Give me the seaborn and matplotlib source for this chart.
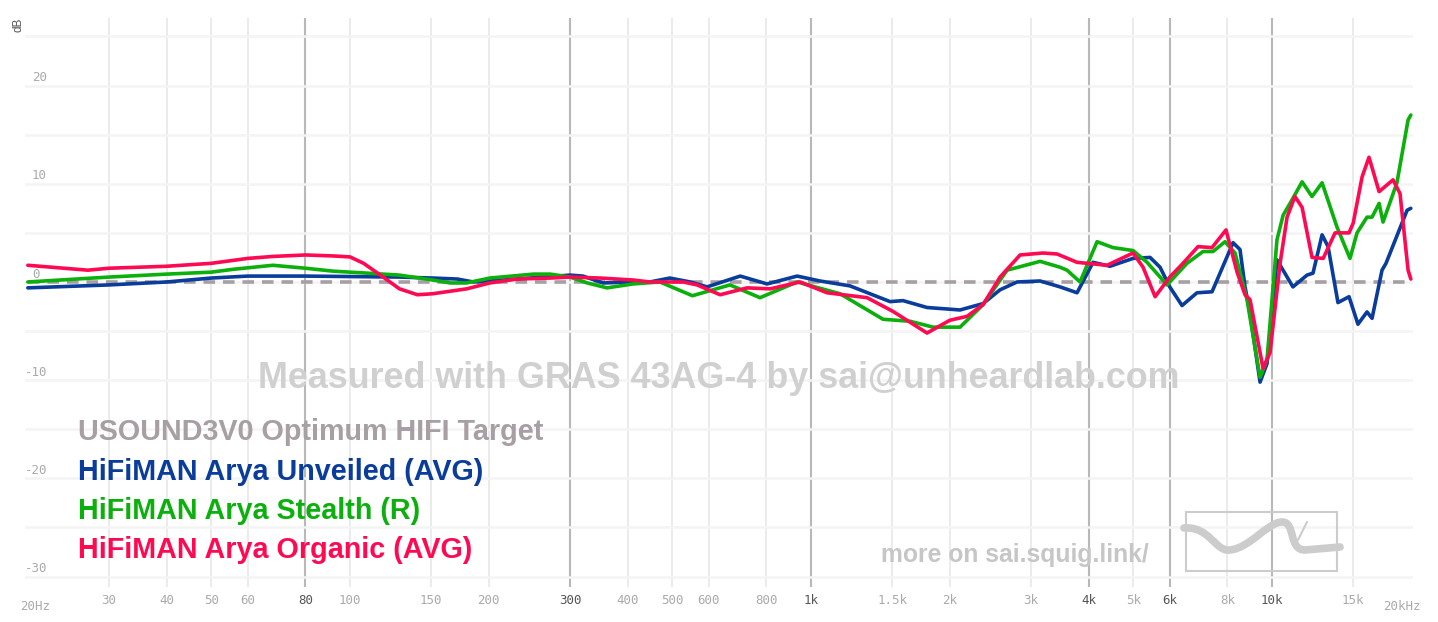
import pandas as pd
import matplotlib
matplotlib.use("Agg")
import matplotlib.pyplot as plt
import matplotlib.transforms as mtransforms
from matplotlib.patches import Rectangle, PathPatch
from matplotlib.path import Path
import seaborn as sns

# frequency response readings (Hz / dB)
target_hz = [20, 20000]
target_db = [0, 0]

unveiled_hz = [20, 30, 40, 50, 60, 80, 128, 151, 171, 185, 201, 300, 320, 354, 411, 447,
               494, 547, 595, 702, 803, 933, 1046, 1215, 1484, 1583, 1785, 2105, 2362, 2570,
               2798, 3139, 3469, 3776, 4090, 4452, 4994, 5438, 5716, 6000, 6379, 6874, 7410,
               8232, 8522, 8738, 8960, 9419, 9754, 10250, 11100, 11910, 12270, 12840, 13230,
               13900, 14690, 15360, 16070, 16480, 17320, 17670, 19630, 20000]
unveiled_db = [-0.6, -0.3, 0.0, 0.4, 0.6, 0.6, 0.5, 0.4, 0.3, 0.0, 0.1, 0.7, 0.6, -0.1, 0.0, 0.0,
               0.4, 0.0, -0.5, 0.6, -0.2, 0.6, 0.1, -0.4, -2.0, -1.9, -2.6, -2.85, -2.2, -0.8,
               0.0, 0.1, -0.5, -1.1, 2.0, 1.6, 2.4, 2.5, 1.5, -0.5, -2.4, -1.1, -1.0,
               4.0, 3.3, -0.5, -3.2, -10.2, -8.3, 2.25, -0.5, 0.7, 0.9, 4.8, 3.6,
               -2.1, -1.5, -4.3, -3.05, -3.7, 1.2, 1.9, 7.3, 7.5]

stealth_hz = [20, 30, 40, 50, 56, 68, 80, 92, 100, 109, 128, 151, 165, 179, 201, 250, 272, 300,
              327, 361, 411, 470, 553, 667, 775, 933, 1156, 1433, 1640, 1839, 2105, 2362, 2662,
              3139, 3469, 3592, 3833, 4173, 4519, 4994, 5357, 5919, 6540, 7083, 7447, 7907,
              8314, 8825, 9419, 9754, 10250, 10570, 10940, 11620, 12210, 12840, 13830, 14760,
              15290, 16070, 16480, 17070, 17410, 18660, 19730, 20000]
stealth_db = [0.0, 0.5, 0.8, 1.0, 1.3, 1.7, 1.4, 1.1, 1.0, 0.9, 0.7, 0.2, -0.1, -0.1, 0.4, 0.8, 0.8, 0.5,
              -0.1, -0.6, -0.2, 0.0, -1.4, -0.3, -1.6, 0.0, -1.2, -3.8, -4.0, -4.6, -4.6, -2.3, 1.2,
              2.1, 1.5, 1.2, 0.0, 4.1, 3.5, 3.2, 2.0, -0.3, 1.9, 3.1, 3.1, 4.1,
              2.95, -1.8, -9.7, -7.9, 4.3, 6.8, 8.0, 10.2, 8.7, 10.1, 5.6, 2.4,
              5.0, 6.6, 6.6, 8.0, 6.1, 10.1, 16.5, 17.0]

organic_hz = [20, 27, 30, 40, 50, 60, 68, 80, 92, 100, 107, 118, 128, 140, 151, 179, 201, 230,
              272, 300, 349, 411, 447, 528, 566, 635, 727, 815, 947, 1083, 1323, 1506, 1785,
              2000, 2180, 2362, 2570, 2841, 3186, 3417, 3776, 4386, 4994, 5251, 5576, 6000,
              6411, 6909, 7410, 7946, 8397, 8738, 8960, 9561, 9901, 10410, 10780, 11210, 11620,
              12210, 12910, 13700, 14690, 15000, 15680, 16230, 17070, 18300, 18950, 19730, 20000]
organic_db = [1.7, 1.2, 1.4, 1.6, 1.9, 2.4, 2.6, 2.75, 2.65, 2.55, 1.9, 0.5, -0.7, -1.3, -1.2, -0.7, -0.1, 0.3,
              0.4, 0.5, 0.4, 0.2, 0.0, 0.0, -0.3, -1.3, -0.6, -0.7, 0.0, -1.1, -1.6, -3.0, -5.2,
              -3.9, -3.5, -2.3, 0.5, 2.75, 2.95, 2.85, 2.0, 1.7, 2.95, 1.5, -1.5, 0.5,
              1.9, 3.6, 3.5, 5.3, 1.0, -1.3, -1.8, -8.8, -7.2, 1.9, 6.6, 8.7, 7.6,
              2.5, 2.4, 5.0, 5.0, 6.0, 10.7, 12.7, 9.2, 10.4, 9.0, 1.2, 0.3]

names = ["USOUND3V0 Optimum HIFI Target", "HiFiMAN Arya Unveiled (AVG)",
         "HiFiMAN Arya Stealth (R)", "HiFiMAN Arya Organic (AVG)"]
colors = ["#a79fa3", "#0a3c9c", "#0cb00c", "#ff0a52"]

tick_hz = [30, 40, 50, 60, 80, 100, 150, 200, 300, 400, 500, 600, 800, 1000, 1500, 2000,
           3000, 4000, 5000, 6000, 8000, 10000, 15000]
tick_text = ["30", "40", "50", "60", "80", "100", "150", "200", "300", "400", "500", "600",
             "800", "1k", "1.5k", "2k", "3k", "4k", "5k", "6k", "8k", "10k", "15k"]
major_hz = [80, 300, 1000, 4000, 6000, 10000]
db_ticks = [20, 10, 0, -10, -20, -30]

W, H = 1438, 622


def px(x, y):
    return x / W, 1 - y / H


sns.set_theme(style="white")
plt.rcParams["font.family"] = ["Liberation Sans", "DejaVu Sans"]

fig = plt.figure(figsize=(W / 100, H / 100), dpi=100)
ax = fig.add_axes([25 / W, (H - 587) / H, 1388 / W, 569 / H])
ax.set_xscale("log")
ax.set_xlim(19.72, 20220)
ax.set_ylim(-31.06, 26.88)
for s in ax.spines.values():
    s.set_visible(False)

# grid
for f in tick_hz:
    major = f in major_hz
    ax.axvline(f, color="#b8b8b8" if major else "#e6e6e6", lw=1.5 if major else 1.1, zorder=0)
for v in range(-30, 30, 5):
    ax.axhline(v, color="#f4f4f4", lw=1.8, zorder=0)

# curves
sns.lineplot(x=target_hz, y=target_db, color=colors[0], lw=2.6, linestyle=(0, (3.2, 2.2)),
             ax=ax, zorder=3)
frames = []
for name, hz, db in [(names[1], unveiled_hz, unveiled_db),
                     (names[2], stealth_hz, stealth_db),
                     (names[3], organic_hz, organic_db)]:
    frames.append(pd.DataFrame({"freq": hz, "db": db, "model": name}))
df = pd.concat(frames, ignore_index=True)
sns.lineplot(data=df, x="freq", y="db", hue="model", palette=dict(zip(names[1:], colors[1:])),
             estimator=None, lw=2.6, legend=False, ax=ax, zorder=4)
ax.set_xlabel("")
ax.set_ylabel("")

# x tick labels
ax.set_xticks(tick_hz, labels=tick_text)
ax.xaxis.set_minor_locator(matplotlib.ticker.NullLocator())
ax.tick_params(axis="x", length=0, pad=5, labelsize=9)
for lbl, f in zip(ax.get_xticklabels(), tick_hz):
    lbl.set_fontfamily("DejaVu Sans Mono")
    lbl.set_color("#555555" if f in major_hz else "#aaaaaa")
ax.set_yticks([])
bt = mtransforms.blended_transform_factory(fig.transFigure, ax.transAxes)
ax.text(20 / W, -0.022, "20Hz", transform=bt, ha="left", va="top", fontsize=9,
        family="DejaVu Sans Mono", color="#aaaaaa")
ax.text(1421 / W, -0.022, "20kHz", transform=bt, ha="right", va="top", fontsize=9,
        family="DejaVu Sans Mono", color="#aaaaaa")

# y labels inside the plot
yt = mtransforms.blended_transform_factory(fig.transFigure, ax.transData)
for v in db_ticks:
    x0 = 32 if v >= 0 else 25
    ax.text(x0 / W, v + 0.8, str(v), transform=yt, ha="left", va="center", fontsize=9,
            family="DejaVu Sans Mono", color="#aaaaaa")
fig.text(*px(19, 25), "dB", rotation=90, ha="center", va="center", fontsize=8.5, color="#555555")

# watermark texts
ax.text(*px(719, 378), "Measured with GRAS 43AG-4 by sai@unheardlab.com", transform=fig.transFigure,
        ha="center", va="center", fontsize=25.8, weight="bold", color="#d0d0d0", zorder=1)
ax.text(*px(1015, 555), "more on sai.squig.link/", transform=fig.transFigure,
        ha="center", va="center", fontsize=17.8, weight="bold", color="#c6c6c6", zorder=1)

# logo
x0, y0 = px(1186, 571)
x1, y1 = px(1337, 512)
fig.patches.append(Rectangle((x0, y0), x1 - x0, y1 - y0, transform=fig.transFigure,
                             fill=False, ec="#cccccc", lw=1.5))
verts = [px(1184, 528), px(1210, 526), px(1215, 552), px(1230, 550),
         px(1250, 548), px(1268, 522), px(1282, 522),
         px(1296, 522), px(1288, 550), px(1305, 550), px(1340, 547)]
codes = [Path.MOVETO] + [Path.CURVE4] * 9 + [Path.LINETO]
fig.patches.append(PathPatch(Path(verts, codes), transform=fig.transFigure, fill=False,
                             ec="#cccccc", lw=5.5, capstyle="round"))
fig.lines.append(matplotlib.lines.Line2D(*zip(px(1298, 540), px(1307, 522)), transform=fig.transFigure,
                                         color="#cccccc", lw=1.5))

# legend as coloured labels
for i, (name, c) in enumerate(zip(names, colors)):
    fig.text(*px(78, 432 + 39.5 * i), name, ha="left", va="center", fontsize=20.7,
             weight="bold", color=c)

fig.savefig("out.png", dpi=100, facecolor="white")
